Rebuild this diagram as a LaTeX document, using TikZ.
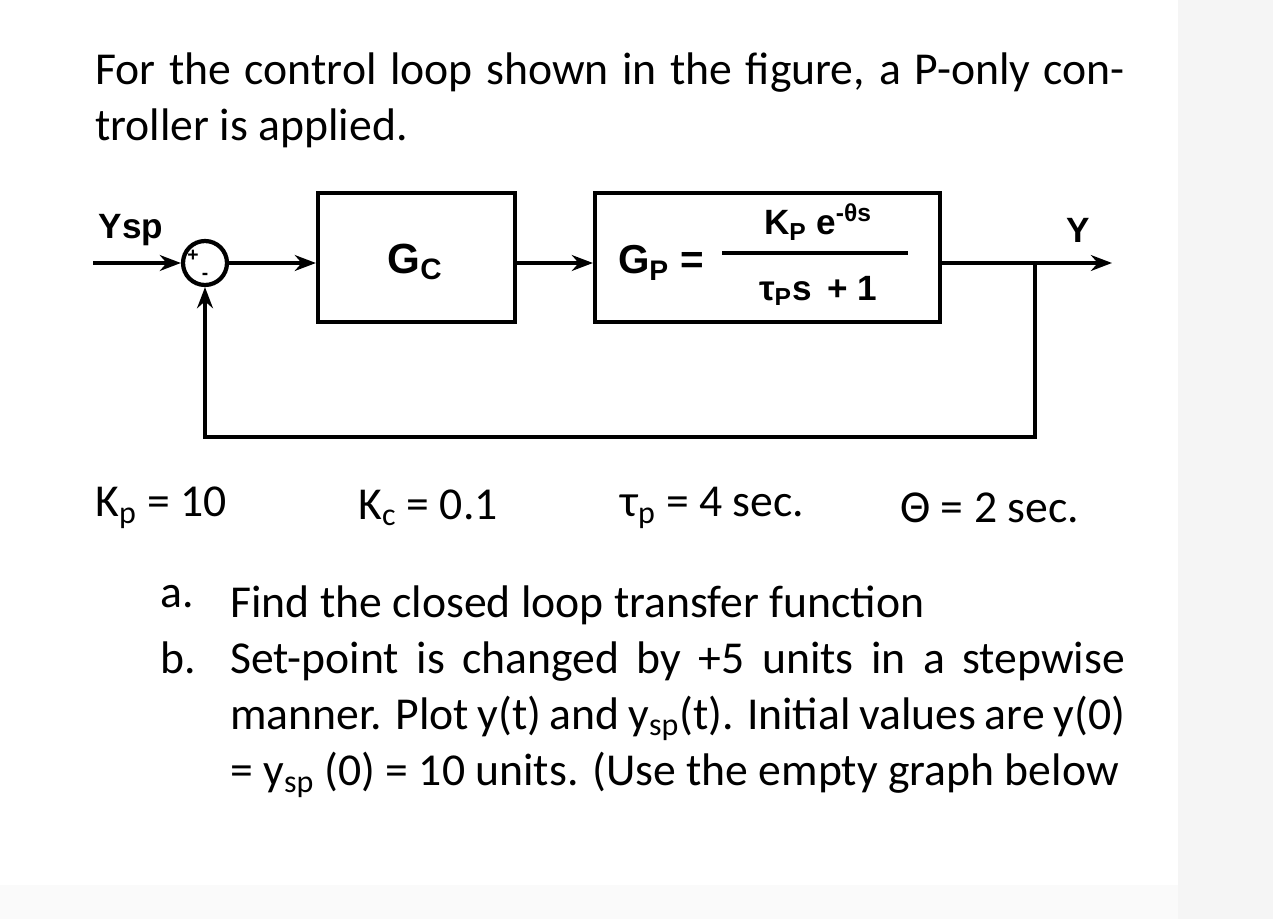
\documentclass[tikz,border=0pt]{standalone}
\usepackage{fontspec}
\setmainfont{Carlito}
\newfontfamily\diagfont{Liberation Sans}
\usetikzlibrary{positioning,arrows.meta}
\tikzstyle{block} = [rectangle, draw, line width=2.4pt, inner sep=0pt]
\tikzstyle{lbl} = [font=\diagfont\bfseries\fontsize{20}{24}\selectfont, inner sep=0pt]
\tikzstyle{body} = [font=\fontsize{26}{32}\selectfont, inner sep=0pt, anchor=north west, align=justify]
\tikzstyle{sig} = [line width=2.4pt, -{Stealth[length=12pt,width=9pt]}]
\begin{document}
\begin{tikzpicture}[x=0.02cm, y=-0.02cm]
        \useasboundingbox (0,0) rectangle (1273,919);
        \fill[black!4] (1178,0) rectangle (1273,919);
        \fill[black!2] (0,885) rectangle (1178,919);

        \node[body, text width=20.6cm] (intro) at (95,52) {For the control loop shown in the figure, a P-only controller is applied.};

        \node[draw, circle, line width=2.4pt, minimum size=0.88cm, inner sep=0pt] (sum) at (205,263) {};
        \node[font=\diagfont\bfseries\fontsize{11}{12}\selectfont] at (193,256) {+};
        \node[font=\diagfont\bfseries\fontsize{11}{12}\selectfont] at (205,276) {-};
        \node[block, minimum width=3.94cm, minimum height=2.58cm] (gc) at (416.5,257.5) {};
        \node[block, minimum width=6.9cm, minimum height=2.58cm] (gp) at (767.5,257.5) {};

        \coordinate (in) at (93,263);
        \coordinate (out) at (1112,263);
        \coordinate (tap) at (1035,263);
        \coordinate (bl) at (205,437);
        \coordinate (br) at (1035,437);

        \node[lbl] (ysp) at (131,230) {Ysp};
        \node[lbl] (y) at (1078,230) {Y};
        \node[lbl, font=\diagfont\bfseries\fontsize{24}{28}\selectfont] (gclab) at (415,262) {G\textsubscript{C}};
        \node[lbl, font=\diagfont\bfseries\fontsize{23}{28}\selectfont] (gplab) at (661,263) {G\textsubscript{P} =};
        \node[lbl] (num) at (818,222) {K\textsubscript{P} e\textsuperscript{-θs}};
        \node[lbl] (den) at (818,291) {τ\textsubscript{P}s\, + 1};
        \coordinate (fl) at (722,253);
        \coordinate (fr) at (908,253);
        \draw[line width=2.4pt] (fl) -- (fr);

        \draw[sig] (in) -- (sum);
        \draw[sig] (sum) -- (gc.west |- sum);
        \draw[sig] (gc.east |- sum) -- (gp.west |- sum);
        \draw[sig] (gp.east |- sum) -- (out);
        \draw[sig] (tap) -- (br) -- (bl) -- (sum);

        \node[body, anchor=west] (kp) at (95,508) {K\textsubscript{p} = 10};
        \node[body, anchor=west] (kc) at (358,508) {K\textsubscript{c} = 0.1};
        \node[body, anchor=west] (tp) at (620,508) {τ\textsubscript{p} = 4 sec.};
        \node[body, anchor=west] (th) at (900,508) {Θ = 2 sec.};

        \node[body] (ia) at (160,585) {a.};
        \node[body] (ib) at (160,641) {b.};
        \node[body, text width=17.9cm] (ta) at (230,585) {Find the closed loop transfer function};
        \node[body, text width=17.9cm] (tb) at (230,641) {Set-point is changed by +5 units in a stepwise manner. Plot y(t) and y\textsubscript{sp}(t). Initial values are y(0) = y\textsubscript{sp} (0) = 10 units. (Use the empty graph below};
\end{tikzpicture}
\end{document}
